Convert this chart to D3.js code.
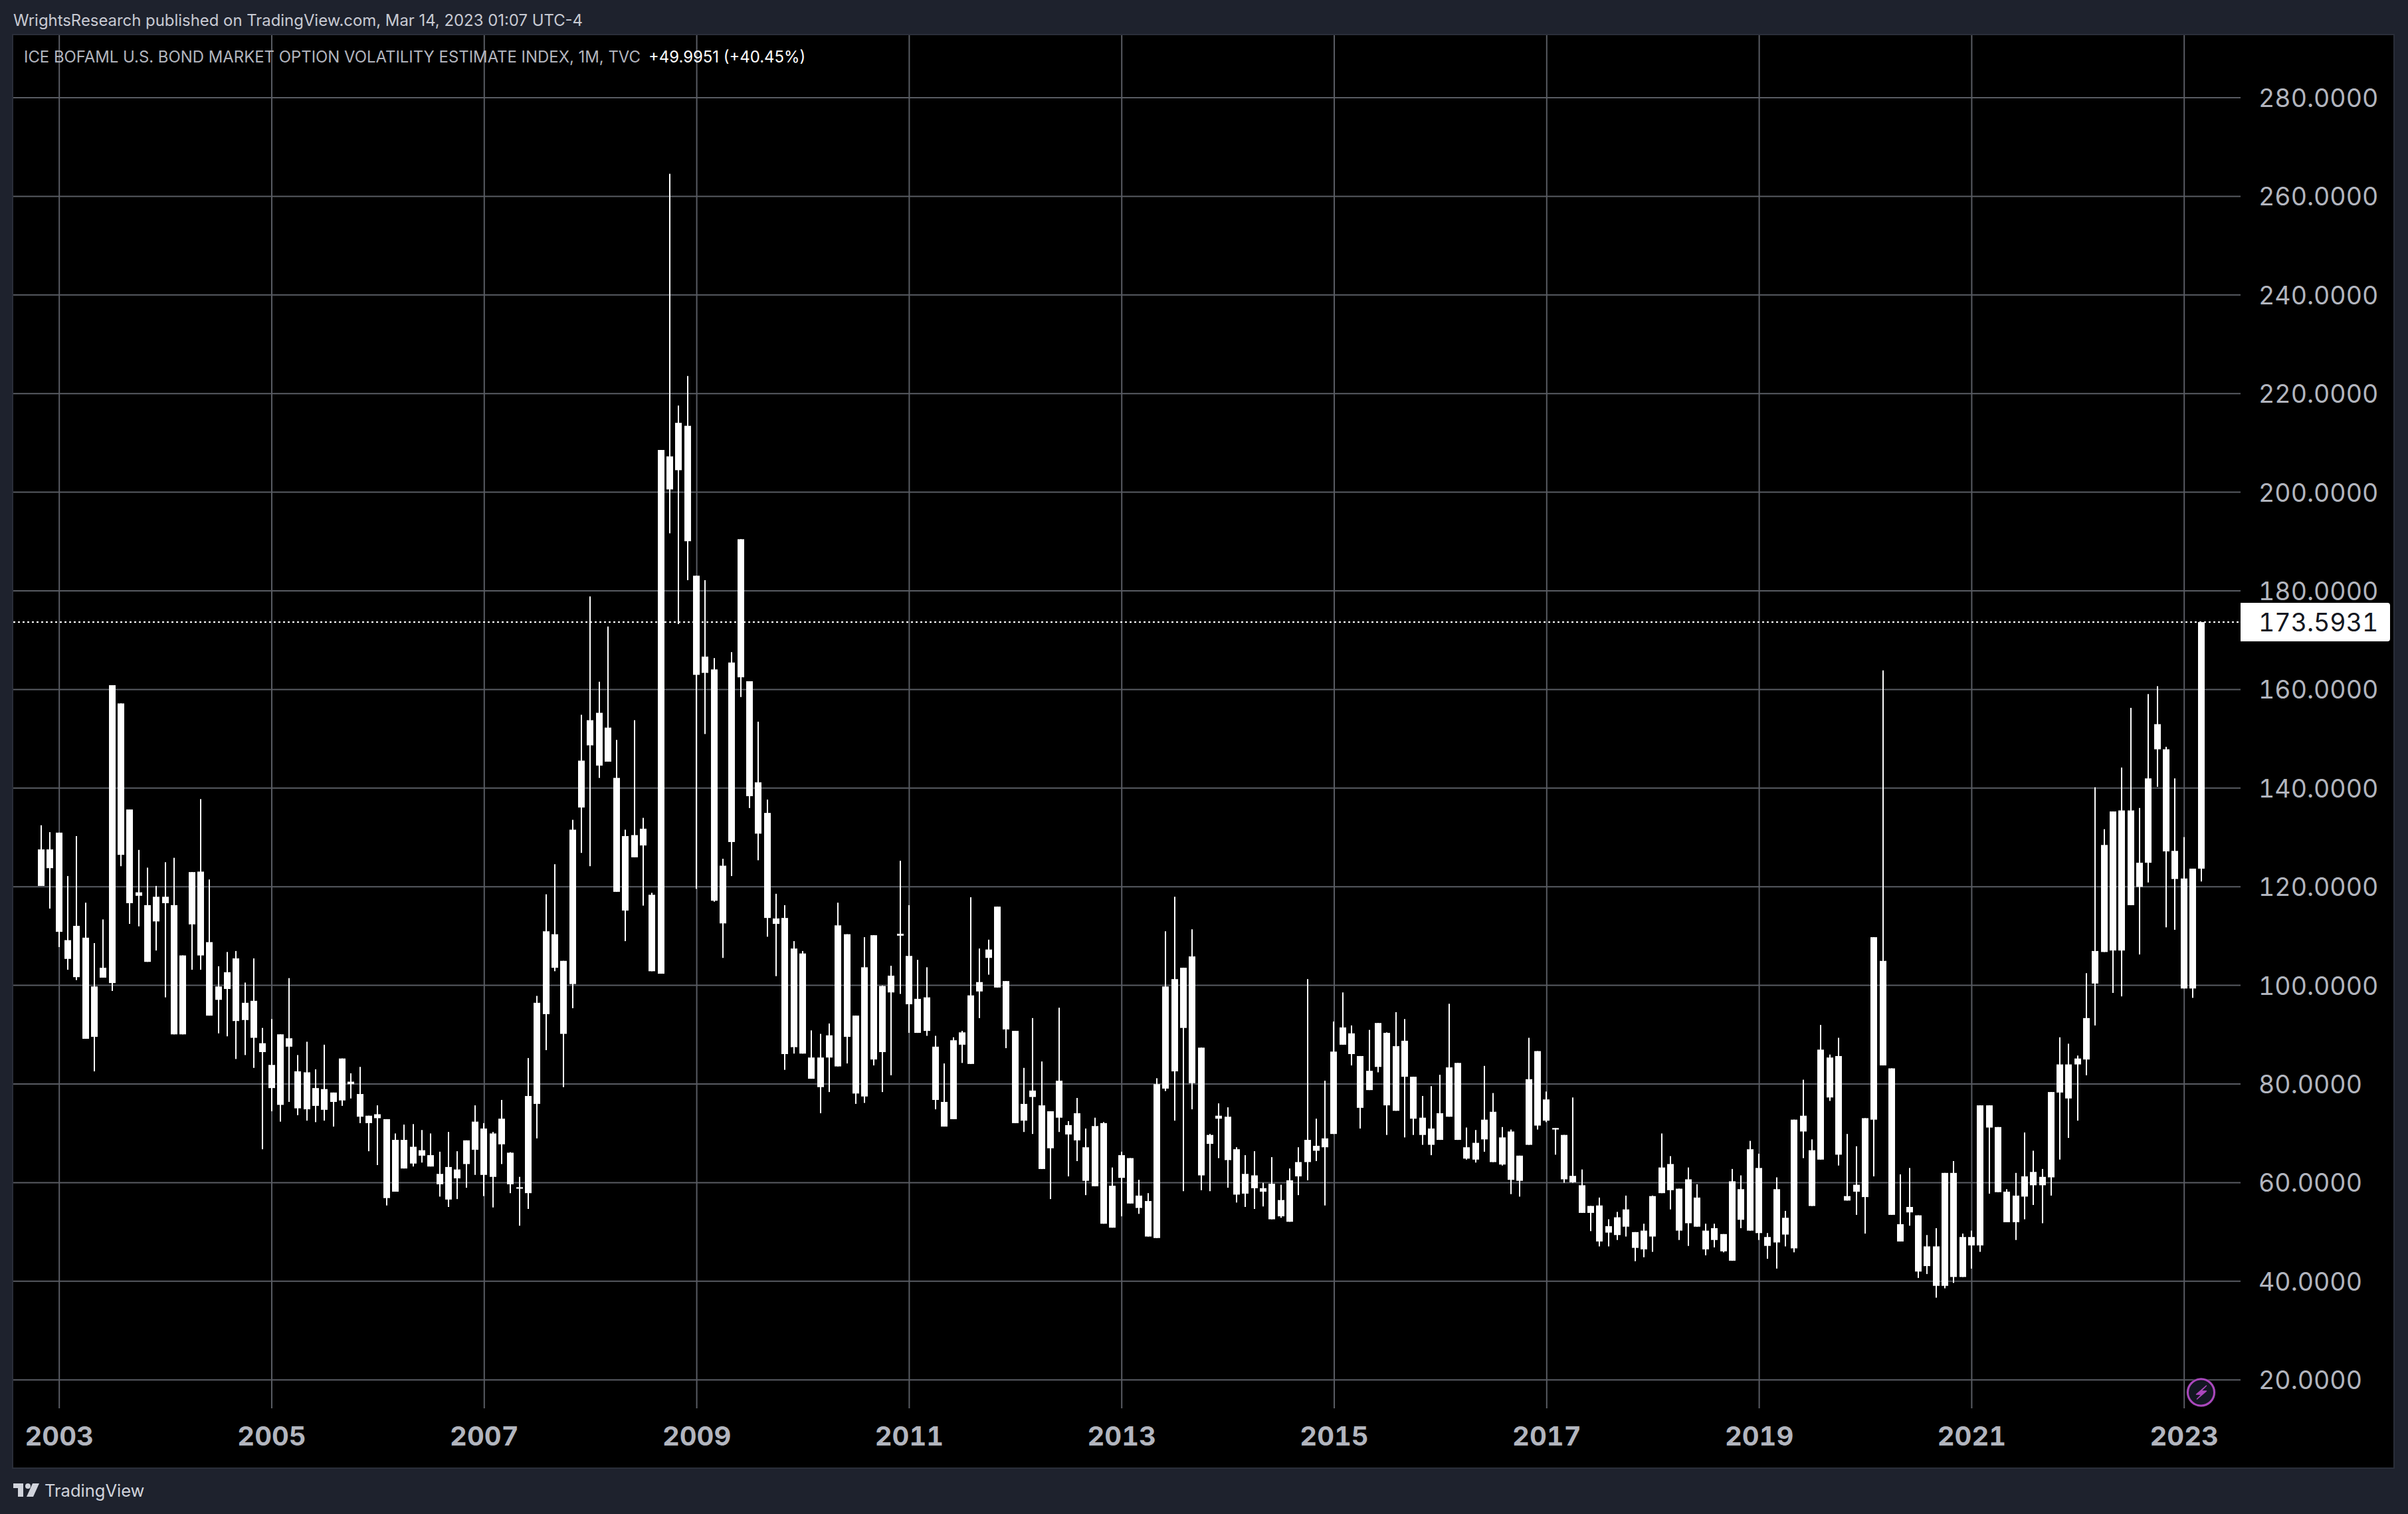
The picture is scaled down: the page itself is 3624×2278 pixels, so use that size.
<!DOCTYPE html>
<html>
<head>
<meta charset="utf-8">
<script src="https://cdn.jsdelivr.net/npm/d3@7"></script>
<style>
  html, body { margin: 0; padding: 0; background: #1e222d; overflow: hidden; }
  text { font-family: Inter, "Noto Sans", sans-serif; }
  .tabular text, text.tabular { font-variant-numeric: tabular-nums; font-feature-settings: "tnum" 1; }
</style>
</head>
<body>
<svg id="canvas"></svg>
<script>
(function () {

    const width = 3624;
    const height = 2278;
    const panel = { left: 20, top: 53, right: 3602, bottom: 2208 };
    const priceAxisX = 3372;
    const timeAxisY = 2119;
    const gridColor = "#595c63";
    const labelColor = "#b2b5be";

    // one row per year, Nov 2002 .. Mar 2023, monthly bars
    const highs = [
        132.4,131.0,
        130.9,122.1,130.2,116.7,108.5,113.3,160.8,157.1,135.6,127.4,123.8,120.1,
        124.9,125.8,106.0,122.9,137.7,121.4,103.8,106.7,106.9,100.5,105.4,91.3,
        93.1,90.0,101.4,85.8,88.5,82.9,87.9,78.2,85.1,82.1,83.4,73.5,
        75.6,72.8,69.9,71.7,71.8,70.6,69.9,66.2,70.2,66.3,68.5,75.6,
        72.0,70.2,76.7,66.1,61.1,85.2,97.8,118.4,124.5,104.9,133.5,154.8,
        178.8,161.5,172.7,149.7,131.5,153.7,133.9,118.7,208.5,264.5,217.5,223.5,
        183.0,182.1,166.3,125.6,167.5,190.4,161.6,153.4,137.6,118.5,116.2,108.9,
        106.9,90.8,90.1,92.2,116.7,110.3,93.8,109.7,110.1,99.9,103.9,125.2,
        116.2,105.1,103.6,89.7,84.1,89.4,90.7,117.8,107.4,109.2,115.9,100.8,
        90.7,83.2,93.3,84.5,74.4,95.4,72.4,77.1,70.9,73.1,72.2,63.0,
        66.2,64.9,60.5,57.8,81.1,110.9,117.9,103.5,111.3,87.3,69.8,76.0,
        75.2,67.1,65.5,66.3,59.9,65.1,59.5,62.8,67.1,101.2,72.9,80.6,
        92.6,98.5,91.8,85.6,90.9,92.3,90.4,94.5,93.1,81.4,77.5,79.5,
        81.8,96.2,84.2,71.1,70.6,83.6,78.1,71.2,70.7,65.4,89.3,86.6,
        78.4,71.0,69.6,77.2,62.6,55.2,56.9,52.5,54.0,57.3,49.9,51.6,
        57.3,69.9,65.3,58.7,63.0,59.6,51.6,51.6,49.5,62.7,61.4,68.4,
        65.8,49.7,61.0,54.2,72.7,80.8,68.7,91.9,85.9,89.3,69.8,67.3,
        73.0,109.7,163.8,83.1,61.6,62.9,53.3,49.3,50.7,61.9,64.3,49.6,
        50.2,75.6,75.6,71.2,58.6,61.9,70.1,66.4,62.7,78.3,89.4,88.1,
        85.7,102.4,140.1,131.6,135.2,144.1,156.2,135.9,159.0,160.6,148.3,141.9,
        130.0,123.6,173.59
    ];
    const bodyTops = [
        127.5,127.5,
        130.9,109.1,112.0,109.6,99.7,103.5,160.8,157.1,135.6,118.8,116.2,117.9,
        117.9,116.2,106.0,122.9,123.0,108.7,99.7,102.6,105.4,96.4,96.8,88.2,
        83.8,90.0,89.2,82.5,82.3,79.1,78.9,78.2,85.1,80.4,77.9,73.5,
        73.8,72.8,68.6,68.6,67.2,66.5,65.5,61.7,63.1,62.6,68.5,72.3,
        70.9,69.9,72.9,66.0,59.0,77.5,96.4,110.9,110.3,104.9,131.5,145.5,
        153.7,155.2,152.2,142.0,130.2,130.4,131.7,118.3,208.5,207.2,214.0,213.4,
        183.0,166.6,164.0,124.2,165.4,190.4,161.6,141.1,134.9,113.5,113.6,107.4,
        106.4,85.3,85.3,89.8,112.1,110.3,93.8,103.6,110.1,99.8,101.9,110.4,
        105.9,97.2,97.5,87.5,76.3,88.8,90.4,97.9,100.6,107.2,115.9,100.8,
        90.7,75.9,78.6,75.6,74.4,80.6,71.6,74.0,67.1,71.4,72.0,59.3,
        65.5,64.9,57.3,56.2,79.9,99.7,101.2,103.5,105.8,87.3,69.6,73.5,
        73.3,66.7,61.7,61.4,58.8,59.7,56.4,60.4,64.1,68.6,67.4,68.9,
        86.5,91.4,90.2,85.6,82.6,92.3,90.3,87.6,88.7,81.4,73.1,70.9,
        74.0,83.3,84.2,67.1,68.0,72.7,74.3,69.1,70.3,65.4,80.9,86.6,
        76.8,71.0,69.6,61.3,59.4,55.2,55.3,51.1,52.9,54.5,49.9,50.2,
        57.2,63.0,63.7,58.7,60.6,56.9,50.2,50.7,49.5,60.2,58.6,66.7,
        62.9,48.9,58.6,52.8,72.7,73.5,66.5,86.9,85.3,85.6,57.2,59.5,
        73.0,109.7,104.9,83.1,51.5,55.0,53.3,47.0,47.0,61.9,61.9,48.9,
        48.9,75.6,75.6,71.2,58.1,57.3,61.2,62.1,61.1,78.3,83.9,83.9,
        85.1,93.3,106.9,128.4,135.2,135.4,135.4,124.8,141.9,152.9,147.8,127.2,
        121.6,123.6,173.59
    ];
    const bodyBottoms = [
        120.1,123.7,
        110.8,105.3,101.6,89.1,89.5,101.5,100.4,126.4,116.6,118.1,104.7,112.9,
        116.6,90.0,90.0,112.3,106.0,93.8,97.0,99.2,92.7,92.9,89.3,86.4,
        79.1,75.7,87.5,75.0,74.8,75.5,74.7,76.3,76.6,79.9,73.3,72.0,
        73.0,56.8,58.1,62.8,63.8,65.4,63.2,59.6,56.5,60.8,63.7,66.6,
        61.5,61.1,67.7,59.6,58.7,57.8,75.9,94.1,103.5,90.1,100.2,136.0,
        148.6,144.5,145.3,118.9,115.1,125.9,128.3,102.8,102.3,200.5,204.4,190.0,
        162.9,163.3,117.1,112.5,129.0,162.4,138.3,130.7,113.6,112.4,86.0,87.4,
        86.1,81.0,79.3,85.3,83.5,89.5,78.0,77.4,84.9,86.4,98.5,110.0,
        96.1,90.3,90.7,76.7,71.3,72.8,87.9,84.0,98.7,105.5,99.5,91.0,
        72.0,72.5,77.3,62.7,66.9,73.1,69.7,68.5,60.3,59.2,51.6,50.8,
        60.9,55.7,54.8,49.0,48.7,79.0,82.5,91.3,80.1,61.4,67.8,72.9,
        64.5,57.5,57.7,58.8,58.1,52.5,53.1,52.0,61.2,64.1,66.4,67.1,
        69.8,87.9,86.0,75.1,78.7,83.4,75.6,74.5,81.4,72.9,69.6,67.6,
        68.6,73.3,68.6,64.8,64.6,68.7,64.1,63.6,60.5,60.3,67.6,71.5,
        72.5,70.7,60.6,60.0,53.8,53.8,48.0,49.8,49.3,51.0,46.7,46.4,
        49.0,57.8,58.4,50.2,51.7,51.0,46.4,48.3,46.0,44.1,52.4,50.2,
        49.7,47.1,47.8,49.4,46.6,70.3,55.2,64.6,77.2,65.6,56.3,58.1,
        57.0,72.7,83.7,53.4,48.0,53.9,41.9,43.0,39.0,39.0,40.8,40.8,
        47.2,47.2,71.1,58.0,51.9,51.9,57.1,59.4,59.4,61.0,78.2,77.0,
        83.9,84.9,100.3,106.7,107.0,107.0,116.2,119.9,124.8,147.8,127.1,121.5,
        99.3,99.3,123.6
    ];
    const lows = [
        120.1,115.5,
        107.7,103.1,101.0,89.1,82.5,101.5,98.8,124.1,112.4,111.9,104.7,107.0,
        97.5,90.0,90.0,103.1,103.1,93.8,90.2,89.6,85.0,85.8,83.2,66.7,
        74.4,72.3,76.3,73.6,72.5,72.2,72.5,71.3,75.5,77.0,72.0,66.3,
        63.5,55.3,58.1,62.8,63.2,64.0,63.2,57.1,55.0,56.6,58.9,61.5,
        57.2,54.9,63.7,57.8,51.2,54.6,68.9,86.8,102.8,79.3,95.3,126.8,
        124.1,142.0,145.3,118.9,108.9,125.9,116.1,102.8,102.3,191.6,173.2,182.1,
        119.5,150.9,116.9,105.5,122.1,158.4,135.9,125.3,109.8,101.8,82.8,86.1,
        86.1,81.0,74.0,78.3,83.5,84.1,75.9,76.1,83.7,78.3,81.7,98.2,
        90.3,90.3,89.7,74.8,71.3,72.8,84.2,84.0,93.3,102.1,99.5,87.2,
        72.0,70.2,69.8,62.7,56.6,70.2,61.2,64.3,57.4,59.2,51.6,50.8,
        53.1,55.7,53.6,49.0,48.7,78.5,72.5,58.2,74.8,58.4,58.2,64.9,
        58.9,55.9,55.0,54.6,55.1,52.5,52.8,52.0,57.4,60.4,64.3,55.3,
        69.8,87.9,83.7,70.9,78.7,82.3,69.6,74.5,69.1,69.6,67.6,65.5,
        68.6,73.3,68.6,64.6,64.0,66.2,64.1,63.4,57.6,57.1,67.6,70.7,
        72.2,65.6,59.9,59.9,53.8,50.1,47.0,47.0,48.3,49.0,44.0,44.8,
        45.9,57.8,54.5,48.3,47.1,51.0,45.2,46.8,45.8,44.1,50.7,50.2,
        48.3,44.5,42.5,47.0,45.8,64.9,55.2,64.6,76.5,63.4,56.3,53.4,
        49.6,61.2,83.7,53.4,48.0,51.2,40.6,41.4,36.6,38.5,39.6,40.8,
        42.5,45.9,57.7,58.0,51.9,48.3,52.5,55.4,51.7,57.3,64.6,69.0,
        72.5,81.7,91.8,106.7,98.4,97.7,116.2,106.2,120.8,140.2,111.7,111.2,
        99.3,97.4,121.0
    ];

    const priceTicks = [20, 40, 60, 80, 100, 120, 140, 160, 180, 200, 220, 240, 260, 280];
    const yearTicks = ["2003-01", "2005-01", "2007-01", "2009-01", "2011-01", "2013-01", "2015-01", "2017-01", "2019-01", "2021-01", "2023-01"];
    const lastPrice = 173.5931;

    const months = d3.utcMonths(new Date(Date.UTC(2002, 10, 1)), new Date(Date.UTC(2023, 3, 1)))
        .map(d3.utcFormat("%Y-%m"));

    const x = d3.scalePoint().domain(months).range([62.05, 3313.35]);
    const y = d3.scaleLinear().domain([20, 280]).range([2075.7, 146.5]);

    const canvas = d3.select("#canvas")
        .attr("width", width)
        .attr("height", height)
        .style("display", "block");

    canvas.append("rect")
        .attr("x", panel.left - 1)
        .attr("y", panel.top - 1)
        .attr("width", panel.right - panel.left + 2)
        .attr("height", panel.bottom - panel.top + 2)
        .attr("fill", "#000")
        .attr("stroke", "#2a2e39")
        .attr("stroke-width", 2);

    // price axis with its grid lines
    const yAxis = canvas.append("g")
        .attr("class", "tabular")
        .attr("transform", `translate(${priceAxisX},0)`)
        .call(d3.axisRight(y)
            .tickValues(priceTicks)
            .tickFormat(d3.format(".4f"))
            .tickSize(-(priceAxisX - panel.left))
            .tickPadding(27));
    yAxis.select(".domain").remove();
    yAxis.selectAll("line").attr("stroke", gridColor).attr("stroke-width", 2);
    yAxis.selectAll("text")
        .attr("fill", labelColor)
        .attr("font-size", 37.5)
        .attr("font-weight", 400)
        .attr("dy", 14);

    // time axis with its grid lines
    const xAxis = canvas.append("g")
        .attr("class", "tabular")
        .attr("transform", `translate(0,${timeAxisY})`)
        .call(d3.axisBottom(x)
            .tickValues(yearTicks)
            .tickFormat(d => d.slice(0, 4))
            .tickSize(-(timeAxisY - panel.top)));
    xAxis.select(".domain").remove();
    xAxis.selectAll("line").attr("stroke", gridColor).attr("stroke-width", 2);
    xAxis.selectAll("text")
        .attr("fill", labelColor)
        .attr("font-size", 40)
        .attr("font-weight", 700)
        .attr("y", 56)
        .attr("dy", 0);

    // last price line
    canvas.append("line")
        .attr("x1", panel.left)
        .attr("x2", priceAxisX)
        .attr("y1", y(lastPrice))
        .attr("y2", y(lastPrice))
        .attr("stroke", "#fff")
        .attr("stroke-width", 2)
        .attr("stroke-dasharray", "3 4");

    // candles
    const candles = canvas.append("g")
        .selectAll("g")
        .data(months)
        .enter()
        .append("g");

    candles.append("rect")
        .attr("x", d => Math.round(x(d)) - 1)
        .attr("width", 2)
        .attr("y", (d, i) => y(highs[i]))
        .attr("height", (d, i) => y(lows[i]) - y(highs[i]))
        .attr("fill", "#fff");

    candles.append("rect")
        .attr("x", d => Math.round(x(d)) - 5)
        .attr("width", 10)
        .attr("y", (d, i) => y(bodyTops[i]))
        .attr("height", (d, i) => Math.max(y(bodyBottoms[i]) - y(bodyTops[i]), 2))
        .attr("fill", "#fff");

    // last price tag
    canvas.append("path")
        .attr("d", `M${priceAxisX},${y(lastPrice) - 29}H3593a4,4 0 0 1 4,4V${y(lastPrice) + 25}a4,4 0 0 1 -4,4H${priceAxisX}Z`)
        .attr("fill", "#fff");
    canvas.append("text")
        .attr("class", "tabular")
        .attr("x", priceAxisX + 27)
        .attr("y", y(lastPrice) + 14)
        .attr("fill", "#131722")
        .attr("font-size", 37.5)
        .attr("font-weight", 400)
        .text(d3.format(".4f")(lastPrice));

    // header and legend
    canvas.append("text")
        .attr("x", 20)
        .attr("y", 39)
        .attr("fill", "#c8cad3")
        .attr("font-size", 23.9)
        .text("WrightsResearch published on TradingView.com, Mar 14, 2023 01:07 UTC-4");
    canvas.append("text")
        .attr("x", 36)
        .attr("y", 94)
        .attr("fill", labelColor)
        .attr("font-size", 23.9)
        .text("ICE BOFAML U.S. BOND MARKET OPTION VOLATILITY ESTIMATE INDEX, 1M, TVC");
    canvas.append("text")
        .attr("x", 976)
        .attr("y", 94)
        .attr("fill", "#fff")
        .attr("font-size", 23.9)
        .text("+49.9951 (+40.45%)");

    // lightning badge
    const badge = canvas.append("g").attr("transform", "translate(3312.5,2095)");
    badge.append("circle").attr("r", 22).attr("fill", "#1e222d");
    badge.append("circle").attr("r", 20).attr("fill", "#131722").attr("stroke", "#ab47bc").attr("stroke-width", 3);
    badge.append("path")
        .attr("d", "M8,-10L-7,3H1L-6,10L8,-2H0Z")
        .attr("fill", "#ab47bc")
        .attr("stroke", "#ab47bc")
        .attr("stroke-width", 1.5)
        .attr("stroke-linejoin", "round");

    // footer logo
    const logo = canvas.append("g").attr("transform", "translate(20,2232)").attr("fill", "#d1d4dc");
    logo.append("path").attr("d", "M0,0H15V20H7V7H0Z");
    logo.append("circle").attr("cx", 22).attr("cy", 4).attr("r", 4);
    logo.append("path").attr("d", "M29,0H39L30,20H20Z");
    canvas.append("text")
        .attr("x", 67)
        .attr("y", 2252)
        .attr("fill", "#d1d4dc")
        .attr("font-size", 25.5)
        .text("TradingView");

})();
</script>
</body>
</html>
